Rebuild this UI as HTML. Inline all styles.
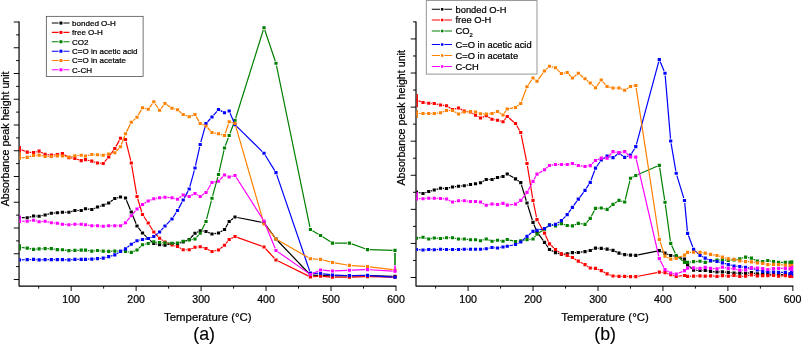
<!DOCTYPE html>
<html lang="en"><head><meta charset="utf-8"><title>Absorbance peak height vs temperature</title>
<style>
html,body{margin:0;padding:0;background:#fff;}
body{width:802px;height:344px;overflow:hidden;}
svg{display:block;font-family:"Liberation Sans",Arial,sans-serif;fill:#000;}
text{stroke:#000;stroke-width:0.22px;}
</style></head><body>
<svg width="802" height="344" viewBox="0 0 802 344">
<rect width="802" height="344" fill="#fff"/>
<defs><clipPath id="ca"><rect x="19.4" y="0" width="381" height="300"/></clipPath><clipPath id="cb"><rect x="416.4" y="0" width="386" height="300"/></clipPath></defs>
<path d="M19.05 21.50V286.10H396.30" stroke="#000" stroke-width="1.2" fill="none" stroke-linejoin="round"/>
<path d="M19.05 22.00h-5.3M19.05 47.75h-5.3M19.05 73.50h-5.3M19.05 99.25h-5.3M19.05 125.00h-5.3M19.05 150.75h-5.3M19.05 176.50h-5.3M19.05 202.25h-5.3M19.05 228.00h-5.3M19.05 253.75h-5.3M19.05 279.50h-5.3M19.05 34.88h-3M19.05 60.62h-3M19.05 86.38h-3M19.05 112.12h-3M19.05 137.88h-3M19.05 163.62h-3M19.05 189.38h-3M19.05 215.12h-3M19.05 240.88h-3M19.05 266.62h-3M71.15 286.10V291M136.12 286.10V291M201.09 286.10V291M266.06 286.10V291M331.03 286.10V291M396.00 286.10V291M38.67 286.10V288.6M103.64 286.10V288.6M168.61 286.10V288.6M233.58 286.10V288.6M298.55 286.10V288.6M363.51 286.10V288.6" stroke="#000" stroke-width="0.95" fill="none"/>
<text x="71.15" y="302.6" text-anchor="middle" font-size="10.6">100</text>
<text x="136.12" y="302.6" text-anchor="middle" font-size="10.6">200</text>
<text x="201.09" y="302.6" text-anchor="middle" font-size="10.6">300</text>
<text x="266.06" y="302.6" text-anchor="middle" font-size="10.6">400</text>
<text x="331.03" y="302.6" text-anchor="middle" font-size="10.6">500</text>
<text x="396.00" y="302.6" text-anchor="middle" font-size="10.6">600</text>
<g clip-path="url(#ca)">
<path d="M21.80 217.65L24.80 217.70M29.52 217.12L31.28 216.63M36.00 216.11L36.70 216.14M41.45 215.76L42.75 215.49M47.41 214.35L48.99 213.90M53.69 213.05L54.91 212.95M59.69 212.52L60.01 212.48M64.80 212.25L66.50 212.25M71.20 211.58L72.60 211.17M77.30 210.50L78.80 210.50M87.88 209.03L89.42 209.22M94.00 208.54L95.30 207.96M99.79 206.30L100.91 205.95M105.42 204.34L106.48 203.91M110.63 201.58L112.87 199.92M117.12 197.89L118.18 197.61M126.42 200.22L130.38 209.78M132.21 214.22L136.09 223.78M138.48 227.89L141.02 231.11M144.23 234.67L146.47 236.83M149.99 240.10L152.01 241.90M156.15 244.01L157.25 244.24M161.99 244.97L162.61 245.03M167.33 244.67L169.67 244.08M174.40 243.50L175.10 243.50M179.82 242.89L180.88 242.61M185.42 241.08L186.98 240.42M190.83 237.74L193.37 235.01M197.16 232.21L198.04 231.79M202.58 231.06L203.62 231.19M208.22 232.42L209.78 233.08M214.37 233.64L216.13 233.36M220.57 231.79L222.43 230.71M225.72 227.43L227.98 223.57M231.10 220.03L233.10 218.47M237.35 217.47L261.65 222.28M265.43 224.68L274.57 237.07M277.66 240.74L308.74 273.26M312.80 275.12L318.20 275.38M323.00 275.58L330.10 275.82M334.90 275.90L347.00 275.90M351.80 275.86L365.10 275.64M369.90 275.66L392.60 276.24" stroke="#000000" stroke-width="1.20" fill="none"/>
<path d="M17.80 216.00h3.2v3.2h-3.2zM25.60 216.15h3.2v3.2h-3.2zM32.00 214.40h3.2v3.2h-3.2zM37.50 214.65h3.2v3.2h-3.2zM43.50 213.40h3.2v3.2h-3.2zM49.70 211.65h3.2v3.2h-3.2zM55.70 211.15h3.2v3.2h-3.2zM60.80 210.65h3.2v3.2h-3.2zM67.30 210.65h3.2v3.2h-3.2zM73.30 208.90h3.2v3.2h-3.2zM79.60 208.90h3.2v3.2h-3.2zM83.90 207.15h3.2v3.2h-3.2zM90.20 207.90h3.2v3.2h-3.2zM95.90 205.40h3.2v3.2h-3.2zM101.60 203.65h3.2v3.2h-3.2zM107.10 201.40h3.2v3.2h-3.2zM113.20 196.90h3.2v3.2h-3.2zM118.90 195.40h3.2v3.2h-3.2zM123.90 196.40h3.2v3.2h-3.2zM129.70 210.40h3.2v3.2h-3.2zM135.40 224.40h3.2v3.2h-3.2zM140.90 231.40h3.2v3.2h-3.2zM146.60 236.90h3.2v3.2h-3.2zM152.20 241.90h3.2v3.2h-3.2zM158.00 243.15h3.2v3.2h-3.2zM163.40 243.65h3.2v3.2h-3.2zM170.40 241.90h3.2v3.2h-3.2zM175.90 241.90h3.2v3.2h-3.2zM181.60 240.40h3.2v3.2h-3.2zM187.60 237.90h3.2v3.2h-3.2zM193.40 231.65h3.2v3.2h-3.2zM198.60 229.15h3.2v3.2h-3.2zM204.40 229.90h3.2v3.2h-3.2zM210.40 232.40h3.2v3.2h-3.2zM216.90 231.40h3.2v3.2h-3.2zM222.90 227.90h3.2v3.2h-3.2zM227.60 219.90h3.2v3.2h-3.2zM233.40 215.40h3.2v3.2h-3.2zM262.40 221.15h3.2v3.2h-3.2zM274.40 237.40h3.2v3.2h-3.2zM308.80 273.40h3.2v3.2h-3.2zM319.00 273.90h3.2v3.2h-3.2zM330.90 274.30h3.2v3.2h-3.2zM347.80 274.30h3.2v3.2h-3.2zM365.90 274.00h3.2v3.2h-3.2zM393.40 274.70h3.2v3.2h-3.2z" fill="#000000"/>
<path d="M21.62 149.91L24.98 151.29M29.60 152.35L31.20 152.45M35.92 151.97L36.78 151.73M41.22 152.23L42.98 153.17M47.48 154.61L48.92 154.79M53.69 154.86L54.91 154.74M59.66 154.08L60.04 154.02M64.44 154.86L66.86 156.34M71.27 157.96L72.53 158.14M77.17 159.29L78.93 159.91M87.83 160.26L89.47 160.64M94.09 161.92L95.21 162.28M99.89 163.21L100.81 163.29M104.75 161.67L107.15 158.83M110.10 155.05L113.40 150.45M115.97 146.40L119.33 140.35M122.83 138.83L123.17 138.92M126.08 141.83L130.72 160.67M131.70 165.37L136.60 194.13M137.70 198.80L141.80 212.20M143.84 216.49L146.86 221.01M149.47 225.04L152.53 229.96M155.43 233.76L157.97 236.49M161.57 239.62L163.03 240.63M167.21 242.95L169.79 244.05M174.32 245.63L175.18 245.87M179.58 247.69L181.12 248.56M185.60 249.75L186.80 249.75M191.40 248.80L192.80 248.20M197.39 247.02L197.81 246.98M202.50 247.44L203.70 247.81M208.15 249.57L209.85 250.43M214.34 250.96L216.16 250.54M220.38 248.51L222.62 246.74M226.02 243.39L227.68 241.36M231.33 238.40L232.87 237.60M237.26 237.32L261.74 246.18M265.63 248.76L274.37 258.24M278.15 261.06L308.25 275.84M312.80 276.75L318.20 276.40M322.99 276.45L330.11 277.05M334.90 277.25L347.00 277.25M351.80 277.16L365.10 276.69M369.90 276.64L392.60 277.06" stroke="#ff0000" stroke-width="1.20" fill="none"/>
<path d="M17.80 147.40h3.2v3.2h-3.2zM25.60 150.60h3.2v3.2h-3.2zM32.00 151.00h3.2v3.2h-3.2zM37.50 149.50h3.2v3.2h-3.2zM43.50 152.70h3.2v3.2h-3.2zM49.70 153.50h3.2v3.2h-3.2zM55.70 152.90h3.2v3.2h-3.2zM60.80 152.00h3.2v3.2h-3.2zM67.30 156.00h3.2v3.2h-3.2zM73.30 156.90h3.2v3.2h-3.2zM79.60 159.10h3.2v3.2h-3.2zM83.90 158.10h3.2v3.2h-3.2zM90.20 159.60h3.2v3.2h-3.2zM95.90 161.40h3.2v3.2h-3.2zM101.60 161.90h3.2v3.2h-3.2zM107.10 155.40h3.2v3.2h-3.2zM113.20 146.90h3.2v3.2h-3.2zM118.90 136.65h3.2v3.2h-3.2zM123.90 137.90h3.2v3.2h-3.2zM129.70 161.40h3.2v3.2h-3.2zM135.40 194.90h3.2v3.2h-3.2zM140.90 212.90h3.2v3.2h-3.2zM146.60 221.40h3.2v3.2h-3.2zM152.20 230.40h3.2v3.2h-3.2zM158.00 236.65h3.2v3.2h-3.2zM163.40 240.40h3.2v3.2h-3.2zM170.40 243.40h3.2v3.2h-3.2zM175.90 244.90h3.2v3.2h-3.2zM181.60 248.15h3.2v3.2h-3.2zM187.60 248.15h3.2v3.2h-3.2zM193.40 245.65h3.2v3.2h-3.2zM198.60 245.15h3.2v3.2h-3.2zM204.40 246.90h3.2v3.2h-3.2zM210.40 249.90h3.2v3.2h-3.2zM216.90 248.40h3.2v3.2h-3.2zM222.90 243.65h3.2v3.2h-3.2zM227.60 237.90h3.2v3.2h-3.2zM233.40 234.90h3.2v3.2h-3.2zM262.40 245.40h3.2v3.2h-3.2zM274.40 258.40h3.2v3.2h-3.2zM308.80 275.30h3.2v3.2h-3.2zM319.00 274.65h3.2v3.2h-3.2zM330.90 275.65h3.2v3.2h-3.2zM347.80 275.65h3.2v3.2h-3.2zM365.90 275.00h3.2v3.2h-3.2zM393.40 275.50h3.2v3.2h-3.2z" fill="#ff0000"/>
<path d="M21.78 247.48L24.82 247.82M29.56 248.54L31.24 248.86M35.99 249.08L36.71 249.02M41.50 248.76L42.70 248.74M47.50 248.70L48.90 248.70M53.67 249.06L54.93 249.24M59.70 249.67L60.00 249.68M64.77 250.10L66.53 250.35M71.30 250.58L72.50 250.52M77.30 250.32L78.80 250.28M87.88 250.54L89.42 250.76M94.19 250.85L95.11 250.75M99.89 250.75L100.81 250.85M105.60 251.23L106.30 251.27M111.10 251.28L112.40 251.22M117.20 251.18L118.10 251.22M127.88 251.83L128.92 251.97M133.53 251.40L134.77 250.90M138.74 248.34L140.76 246.41M144.84 244.24L145.86 244.01M150.49 242.78L151.51 242.47M156.18 242.06L157.22 242.19M162.00 242.61L162.60 242.64M167.39 242.92L169.61 243.08M174.40 243.14L175.10 243.11M179.79 242.30L180.91 241.95M185.55 240.76L186.85 240.49M191.57 239.59L192.63 239.41M196.61 237.22L198.59 235.03M201.26 231.10L204.94 223.65M206.60 219.18L211.40 200.57M212.63 195.94L217.87 176.81M219.03 172.16L223.97 150.34M225.34 145.75L228.36 137.75M230.05 133.26L234.15 122.49M235.72 117.96L263.28 30.04M264.77 30.02L275.23 60.98M276.49 65.60L309.91 227.15M312.47 230.72L318.53 234.28M322.62 236.79L330.48 241.81M334.90 243.10L347.00 243.10M351.66 243.91L365.24 248.79M369.90 249.67L392.60 250.33" stroke="#008000" stroke-width="1.20" fill="none"/>
<path d="M17.80 245.60h3.2v3.2h-3.2zM25.60 246.50h3.2v3.2h-3.2zM32.00 247.70h3.2v3.2h-3.2zM37.50 247.20h3.2v3.2h-3.2zM43.50 247.10h3.2v3.2h-3.2zM49.70 247.10h3.2v3.2h-3.2zM55.70 248.00h3.2v3.2h-3.2zM60.80 248.15h3.2v3.2h-3.2zM67.30 249.10h3.2v3.2h-3.2zM73.30 248.80h3.2v3.2h-3.2zM79.60 248.60h3.2v3.2h-3.2zM83.90 248.60h3.2v3.2h-3.2zM90.20 249.50h3.2v3.2h-3.2zM95.90 248.90h3.2v3.2h-3.2zM101.60 249.50h3.2v3.2h-3.2zM107.10 249.80h3.2v3.2h-3.2zM113.20 249.50h3.2v3.2h-3.2zM118.90 249.70h3.2v3.2h-3.2zM123.90 249.90h3.2v3.2h-3.2zM129.70 250.70h3.2v3.2h-3.2zM135.40 248.40h3.2v3.2h-3.2zM140.90 243.15h3.2v3.2h-3.2zM146.60 241.90h3.2v3.2h-3.2zM152.20 240.15h3.2v3.2h-3.2zM158.00 240.90h3.2v3.2h-3.2zM163.40 241.15h3.2v3.2h-3.2zM170.40 241.65h3.2v3.2h-3.2zM175.90 241.40h3.2v3.2h-3.2zM181.60 239.65h3.2v3.2h-3.2zM187.60 238.40h3.2v3.2h-3.2zM193.40 237.40h3.2v3.2h-3.2zM198.60 231.65h3.2v3.2h-3.2zM204.40 219.90h3.2v3.2h-3.2zM210.40 196.65h3.2v3.2h-3.2zM216.90 172.90h3.2v3.2h-3.2zM222.90 146.40h3.2v3.2h-3.2zM227.60 133.90h3.2v3.2h-3.2zM233.40 118.65h3.2v3.2h-3.2zM262.40 26.15h3.2v3.2h-3.2zM274.40 61.65h3.2v3.2h-3.2zM308.80 227.90h3.2v3.2h-3.2zM319.00 233.90h3.2v3.2h-3.2zM330.90 241.50h3.2v3.2h-3.2zM347.80 241.50h3.2v3.2h-3.2zM365.90 248.00h3.2v3.2h-3.2zM393.40 248.80h3.2v3.2h-3.2z" fill="#008000"/>
<path d="M21.80 259.84L24.80 259.76M29.60 259.59L31.20 259.51M35.99 259.62L36.71 259.68M41.50 259.78L42.70 259.72M47.50 259.64L48.90 259.66M53.70 259.70L54.90 259.70M59.70 259.65L60.00 259.65M64.80 259.71L66.50 259.79M71.29 259.70L72.51 259.60M77.30 259.40L78.80 259.40M87.90 259.22L89.40 259.18M94.19 258.93L95.11 258.87M99.89 258.49L100.81 258.41M105.52 257.57L106.38 257.33M111.00 256.02L112.50 255.58M116.85 253.64L118.45 252.66M122.63 250.29L123.37 249.91M127.39 247.32L129.41 245.73M133.35 242.99L134.95 242.01M139.34 240.22L140.16 240.03M144.86 239.09L145.84 238.91M150.46 237.69L151.54 237.31M155.70 235.03L157.70 233.47M161.21 230.22L163.39 227.78M166.70 224.30L170.30 220.70M173.30 216.99L176.20 212.51M178.65 208.39L182.05 202.11M184.35 197.89L188.05 191.11M189.84 186.69L194.36 170.31M195.52 165.66L199.68 146.84M200.84 142.19L205.36 125.81M207.63 121.74L210.37 118.76M213.57 115.19L216.93 111.31M220.61 110.64L222.39 111.61M230.13 113.21L234.07 122.54M236.71 126.43L262.29 151.57M265.26 155.29L274.74 170.56M276.78 174.87L309.62 270.83M312.80 273.19L318.20 273.41M322.98 273.80L330.12 274.70M334.90 275.09L347.00 275.51M351.80 275.57L365.10 275.43M369.89 275.56L392.61 277.09" stroke="#0000ff" stroke-width="1.20" fill="none"/>
<path d="M17.80 258.30h3.2v3.2h-3.2zM25.60 258.10h3.2v3.2h-3.2zM32.00 257.80h3.2v3.2h-3.2zM37.50 258.30h3.2v3.2h-3.2zM43.50 258.00h3.2v3.2h-3.2zM49.70 258.10h3.2v3.2h-3.2zM55.70 258.10h3.2v3.2h-3.2zM60.80 258.00h3.2v3.2h-3.2zM67.30 258.30h3.2v3.2h-3.2zM73.30 257.80h3.2v3.2h-3.2zM79.60 257.80h3.2v3.2h-3.2zM83.90 257.70h3.2v3.2h-3.2zM90.20 257.50h3.2v3.2h-3.2zM95.90 257.10h3.2v3.2h-3.2zM101.60 256.60h3.2v3.2h-3.2zM107.10 255.10h3.2v3.2h-3.2zM113.20 253.30h3.2v3.2h-3.2zM118.90 249.80h3.2v3.2h-3.2zM123.90 247.20h3.2v3.2h-3.2zM129.70 242.65h3.2v3.2h-3.2zM135.40 239.15h3.2v3.2h-3.2zM140.90 237.90h3.2v3.2h-3.2zM146.60 236.90h3.2v3.2h-3.2zM152.20 234.90h3.2v3.2h-3.2zM158.00 230.40h3.2v3.2h-3.2zM163.40 224.40h3.2v3.2h-3.2zM170.40 217.40h3.2v3.2h-3.2zM175.90 208.90h3.2v3.2h-3.2zM181.60 198.40h3.2v3.2h-3.2zM187.60 187.40h3.2v3.2h-3.2zM193.40 166.40h3.2v3.2h-3.2zM198.60 142.90h3.2v3.2h-3.2zM204.40 121.90h3.2v3.2h-3.2zM210.40 115.40h3.2v3.2h-3.2zM216.90 107.90h3.2v3.2h-3.2zM222.90 111.15h3.2v3.2h-3.2zM227.60 109.40h3.2v3.2h-3.2zM233.40 123.15h3.2v3.2h-3.2zM262.40 151.65h3.2v3.2h-3.2zM274.40 171.00h3.2v3.2h-3.2zM308.80 271.50h3.2v3.2h-3.2zM319.00 271.90h3.2v3.2h-3.2zM330.90 273.40h3.2v3.2h-3.2zM347.80 274.00h3.2v3.2h-3.2zM365.90 273.80h3.2v3.2h-3.2zM393.40 275.65h3.2v3.2h-3.2z" fill="#0000ff"/>
<path d="M21.79 157.79L24.81 157.51M29.50 156.62L31.30 156.08M36.00 155.31L36.70 155.29M41.45 155.71L42.75 155.99M47.50 156.50L48.90 156.50M53.68 156.22L54.92 156.08M59.70 155.89L60.00 155.91M64.76 156.44L66.54 156.76M71.24 156.65L72.56 156.35M77.29 155.59L78.81 155.46M87.83 155.44L89.47 155.06M94.20 154.61L95.10 154.64M99.89 154.96L100.81 155.04M105.54 154.72L106.36 154.53M111.05 153.52L112.45 153.23M116.45 151.01L118.85 148.49M121.36 144.51L124.64 135.99M126.58 131.61L130.22 124.39M133.10 120.67L135.20 118.83M138.20 115.17L141.30 109.83M144.82 108.36L145.88 108.64M149.64 107.33L152.36 103.67M155.15 103.73L158.25 108.27M161.10 108.38L163.50 105.37M166.99 104.85L170.01 106.90M174.32 108.88L175.18 109.12M179.34 111.29L181.36 112.96M185.45 115.34L186.95 115.91M191.44 115.88L192.76 115.37M196.20 116.58L199.00 121.42M202.40 124.45L203.80 125.05M207.63 127.76L210.37 130.74M214.36 132.95L216.14 133.30M220.80 134.42L222.20 134.83M225.28 133.23L228.42 124.02M231.50 122.44L232.70 122.81M235.67 125.81L263.33 221.69M265.50 225.87L274.50 237.13M278.08 240.19L308.32 257.56M312.80 258.90L318.20 259.25M322.92 260.01L330.18 261.89M334.87 262.91L347.03 264.99M351.79 265.56L365.11 266.44M369.88 266.89L392.62 269.71" stroke="#ff8000" stroke-width="1.20" fill="none"/>
<path d="M17.80 156.40h3.2v3.2h-3.2zM25.60 155.70h3.2v3.2h-3.2zM32.00 153.80h3.2v3.2h-3.2zM37.50 153.60h3.2v3.2h-3.2zM43.50 154.90h3.2v3.2h-3.2zM49.70 154.90h3.2v3.2h-3.2zM55.70 154.20h3.2v3.2h-3.2zM60.80 154.40h3.2v3.2h-3.2zM67.30 155.60h3.2v3.2h-3.2zM73.30 154.20h3.2v3.2h-3.2zM79.60 153.65h3.2v3.2h-3.2zM83.90 154.40h3.2v3.2h-3.2zM90.20 152.90h3.2v3.2h-3.2zM95.90 153.15h3.2v3.2h-3.2zM101.60 153.65h3.2v3.2h-3.2zM107.10 152.40h3.2v3.2h-3.2zM113.20 151.15h3.2v3.2h-3.2zM118.90 145.15h3.2v3.2h-3.2zM123.90 132.15h3.2v3.2h-3.2zM129.70 120.65h3.2v3.2h-3.2zM135.40 115.65h3.2v3.2h-3.2zM140.90 106.15h3.2v3.2h-3.2zM146.60 107.65h3.2v3.2h-3.2zM152.20 100.15h3.2v3.2h-3.2zM158.00 108.65h3.2v3.2h-3.2zM163.40 101.90h3.2v3.2h-3.2zM170.40 106.65h3.2v3.2h-3.2zM175.90 108.15h3.2v3.2h-3.2zM181.60 112.90h3.2v3.2h-3.2zM187.60 115.15h3.2v3.2h-3.2zM193.40 112.90h3.2v3.2h-3.2zM198.60 121.90h3.2v3.2h-3.2zM204.40 124.40h3.2v3.2h-3.2zM210.40 130.90h3.2v3.2h-3.2zM216.90 132.15h3.2v3.2h-3.2zM222.90 133.90h3.2v3.2h-3.2zM227.60 120.15h3.2v3.2h-3.2zM233.40 121.90h3.2v3.2h-3.2zM262.40 222.40h3.2v3.2h-3.2zM274.40 237.40h3.2v3.2h-3.2zM308.80 257.15h3.2v3.2h-3.2zM319.00 257.80h3.2v3.2h-3.2zM330.90 260.90h3.2v3.2h-3.2zM347.80 263.80h3.2v3.2h-3.2zM365.90 265.00h3.2v3.2h-3.2zM393.40 268.40h3.2v3.2h-3.2z" fill="#ff8000"/>
<path d="M21.80 221.25L24.80 221.25M29.57 220.88L31.23 220.62M35.92 220.88L36.78 221.12M41.49 221.55L42.71 221.45M47.43 221.81L48.97 222.19M53.69 222.95L54.91 223.05M59.66 223.71L60.04 223.79M64.79 224.43L66.51 224.57M71.29 224.55L72.51 224.45M77.30 224.25L78.80 224.25M87.87 225.13L89.43 225.37M94.20 225.75L95.10 225.75M99.89 225.96L100.81 226.04M105.59 226.03L106.31 225.97M111.10 225.75L112.40 225.75M117.20 225.75L118.10 225.75M122.56 224.52L123.44 223.98M127.03 220.90L129.77 217.60M132.85 213.92L135.45 210.83M138.86 207.48L140.64 206.02M144.55 203.24L146.15 202.26M150.43 200.11L151.57 199.64M156.17 198.34L157.23 198.16M161.99 197.53L162.61 197.47M167.39 197.42L169.61 197.58M174.32 198.38L175.18 198.62M179.42 197.82L181.28 196.43M185.53 195.58L186.87 195.92M191.33 195.40L192.87 194.60M197.08 194.70L198.12 195.30M202.18 195.14L204.02 193.86M207.23 190.44L210.77 184.56M214.36 182.05L216.14 181.70M220.16 179.52L222.84 176.73M226.71 175.94L226.99 176.06M231.52 176.40L232.68 176.10M236.29 177.52L262.71 218.98M264.90 223.22L275.10 248.28M277.97 251.87L308.43 273.13M312.60 273.53L318.40 270.97M322.99 270.20L330.11 270.80M334.90 270.89L347.00 270.36M351.80 270.16L365.10 269.69M369.90 269.74L392.60 271.11" stroke="#ff00ff" stroke-width="1.20" fill="none"/>
<path d="M17.80 219.65h3.2v3.2h-3.2zM25.60 219.65h3.2v3.2h-3.2zM32.00 218.65h3.2v3.2h-3.2zM37.50 220.15h3.2v3.2h-3.2zM43.50 219.65h3.2v3.2h-3.2zM49.70 221.15h3.2v3.2h-3.2zM55.70 221.65h3.2v3.2h-3.2zM60.80 222.65h3.2v3.2h-3.2zM67.30 223.15h3.2v3.2h-3.2zM73.30 222.65h3.2v3.2h-3.2zM79.60 222.65h3.2v3.2h-3.2zM83.90 223.15h3.2v3.2h-3.2zM90.20 224.15h3.2v3.2h-3.2zM95.90 224.15h3.2v3.2h-3.2zM101.60 224.65h3.2v3.2h-3.2zM107.10 224.15h3.2v3.2h-3.2zM113.20 224.15h3.2v3.2h-3.2zM118.90 224.15h3.2v3.2h-3.2zM123.90 221.15h3.2v3.2h-3.2zM129.70 214.15h3.2v3.2h-3.2zM135.40 207.40h3.2v3.2h-3.2zM140.90 202.90h3.2v3.2h-3.2zM146.60 199.40h3.2v3.2h-3.2zM152.20 197.15h3.2v3.2h-3.2zM158.00 196.15h3.2v3.2h-3.2zM163.40 195.65h3.2v3.2h-3.2zM170.40 196.15h3.2v3.2h-3.2zM175.90 197.65h3.2v3.2h-3.2zM181.60 193.40h3.2v3.2h-3.2zM187.60 194.90h3.2v3.2h-3.2zM193.40 191.90h3.2v3.2h-3.2zM198.60 194.90h3.2v3.2h-3.2zM204.40 190.90h3.2v3.2h-3.2zM210.40 180.90h3.2v3.2h-3.2zM216.90 179.65h3.2v3.2h-3.2zM222.90 173.40h3.2v3.2h-3.2zM227.60 175.40h3.2v3.2h-3.2zM233.40 173.90h3.2v3.2h-3.2zM262.40 219.40h3.2v3.2h-3.2zM274.40 248.90h3.2v3.2h-3.2zM308.80 272.90h3.2v3.2h-3.2zM319.00 268.40h3.2v3.2h-3.2zM330.90 269.40h3.2v3.2h-3.2zM347.80 268.65h3.2v3.2h-3.2zM365.90 268.00h3.2v3.2h-3.2zM393.40 269.65h3.2v3.2h-3.2z" fill="#ff00ff"/>
<line x1="20.15" y1="146.10" x2="20.15" y2="152.60" stroke="#ff0000" stroke-width="1.6"/>
<line x1="20.15" y1="152.60" x2="20.15" y2="159.40" stroke="#ff8000" stroke-width="1.6"/>
<line x1="20.15" y1="215.60" x2="20.15" y2="223.00" stroke="#ff00ff" stroke-width="1.6"/>
<line x1="20.15" y1="244.30" x2="20.15" y2="250.40" stroke="#008000" stroke-width="1.6"/>
<line x1="395.00" y1="253.00" x2="395.00" y2="265.00" stroke="#008000" stroke-width="1.6"/>
<line x1="395.00" y1="265.60" x2="395.00" y2="272.50" stroke="#ff00ff" stroke-width="1.6"/>
</g>
<rect x="46.30" y="16.30" width="96.80" height="60.10" fill="#fff" stroke="#3a3a3a" stroke-width="0.70"/>
<path d="M51.80 23.05H58.55M63.35 23.05H69.50" stroke="#000000" stroke-width="1.1" fill="none"/>
<rect x="59.45" y="21.55" width="3.00" height="3.00" fill="#000000"/>
<text x="72.00" y="25.95" font-size="8.05">bonded O-H</text>
<path d="M51.80 32.40H58.55M63.35 32.40H69.50" stroke="#ff0000" stroke-width="1.1" fill="none"/>
<rect x="59.45" y="30.90" width="3.00" height="3.00" fill="#ff0000"/>
<text x="72.00" y="35.30" font-size="8.05">free O-H</text>
<path d="M51.80 41.75H58.55M63.35 41.75H69.50" stroke="#008000" stroke-width="1.1" fill="none"/>
<rect x="59.45" y="40.25" width="3.00" height="3.00" fill="#008000"/>
<text x="72.00" y="44.65" font-size="8.05">CO2</text>
<path d="M51.80 51.20H58.55M63.35 51.20H69.50" stroke="#0000ff" stroke-width="1.1" fill="none"/>
<rect x="59.45" y="49.70" width="3.00" height="3.00" fill="#0000ff"/>
<text x="72.00" y="54.10" font-size="8.05">C=O in acetic acid</text>
<path d="M51.80 60.50H58.55M63.35 60.50H69.50" stroke="#ff8000" stroke-width="1.1" fill="none"/>
<rect x="59.45" y="59.00" width="3.00" height="3.00" fill="#ff8000"/>
<text x="72.00" y="63.40" font-size="8.05">C=O in acetate</text>
<path d="M51.80 69.80H58.55M63.35 69.80H69.50" stroke="#ff00ff" stroke-width="1.1" fill="none"/>
<rect x="59.45" y="68.30" width="3.00" height="3.00" fill="#ff00ff"/>
<text x="72.00" y="72.70" font-size="8.05">C-CH</text>
<path d="M416.00 21.50V286.10H793.30" stroke="#000" stroke-width="1.2" fill="none" stroke-linejoin="round"/>
<path d="M416.00 38.95h-5.3M416.00 73.03h-5.3M416.00 107.11h-5.3M416.00 141.19h-5.3M416.00 175.27h-5.3M416.00 209.35h-5.3M416.00 243.43h-5.3M416.00 277.51h-5.3M416.00 21.90h-3M416.00 55.98h-3M416.00 90.06h-3M416.00 124.14h-3M416.00 158.22h-3M416.00 192.30h-3M416.00 226.38h-3M416.00 260.46h-3M468.10 286.10V291M533.05 286.10V291M598.00 286.10V291M662.95 286.10V291M727.90 286.10V291M792.85 286.10V291M435.62 286.10V288.6M500.58 286.10V288.6M565.52 286.10V288.6M630.48 286.10V288.6M695.42 286.10V288.6M760.38 286.10V288.6" stroke="#000" stroke-width="0.95" fill="none"/>
<text x="468.10" y="302.6" text-anchor="middle" font-size="10.6">100</text>
<text x="533.05" y="302.6" text-anchor="middle" font-size="10.6">200</text>
<text x="598.00" y="302.6" text-anchor="middle" font-size="10.6">300</text>
<text x="662.95" y="302.6" text-anchor="middle" font-size="10.6">400</text>
<text x="727.90" y="302.6" text-anchor="middle" font-size="10.6">500</text>
<text x="792.55" y="302.6" text-anchor="middle" font-size="10.6">600</text>
<g clip-path="url(#cb)">
<path d="M418.74 192.53L420.66 192.97M425.27 192.71L426.48 192.29M431.07 190.87L431.93 190.63M436.56 189.35L438.19 188.90M442.90 188.35L444.10 188.40M448.83 187.92L450.17 187.58M454.88 186.70L456.12 186.55M460.89 186.04L461.86 185.96M466.60 185.28L468.15 184.97M482.59 181.57L484.16 180.68M488.65 179.50L489.60 179.50M494.26 178.68L495.24 178.32M499.86 177.07L500.64 176.93M509.32 175.21L513.43 177.59M517.44 180.21L518.81 181.19M521.45 184.89L526.30 200.71M527.71 205.29L532.29 220.01M533.91 224.52L536.09 229.78M538.41 233.94L543.09 240.36M545.87 244.27L548.13 247.53M551.62 250.63L553.38 251.57M557.83 253.29L559.07 253.61M563.79 254.03L564.81 253.97M569.55 253.30L570.05 253.20M574.80 252.62L575.90 252.58M580.68 252.18L582.62 251.92M587.35 251.11L587.90 250.99M592.43 249.50L593.32 249.10M597.90 248.23L598.85 248.27M603.63 248.73L604.72 248.87M609.46 249.64L610.64 249.86M615.16 251.34L616.84 252.16M621.32 253.81L622.38 254.09M627.09 254.87L628.11 254.93M632.90 255.19L633.40 255.21M638.16 254.84L656.94 251.16M661.50 251.66L662.80 252.24M667.23 254.10L668.47 254.60M673.08 255.85L673.82 255.95M678.47 257.09L682.23 258.41M685.66 261.30L686.44 262.70M689.40 266.39L691.80 268.51M696.00 270.25L697.60 270.35M702.40 270.50L702.80 270.50M707.56 270.94L708.24 271.06M712.99 271.69L714.61 271.81M719.40 271.96L720.00 271.94M724.79 272.06L725.91 272.14M730.68 272.63L731.62 272.77M736.40 273.10L737.40 273.10M742.20 273.22L743.20 273.28M747.98 273.07L749.02 272.93M753.74 273.12L754.96 273.38M759.70 274.03L760.30 274.07M770.20 274.33L771.10 274.37M775.90 274.50L776.20 274.50M781.00 274.54L782.90 274.56" stroke="#000000" stroke-width="1.20" fill="none"/>
<path d="M414.80 190.40h3.2v3.2h-3.2zM421.40 191.90h3.2v3.2h-3.2zM427.15 189.90h3.2v3.2h-3.2zM432.65 188.40h3.2v3.2h-3.2zM438.90 186.65h3.2v3.2h-3.2zM444.90 186.90h3.2v3.2h-3.2zM450.90 185.40h3.2v3.2h-3.2zM456.90 184.65h3.2v3.2h-3.2zM462.65 184.15h3.2v3.2h-3.2zM468.90 182.90h3.2v3.2h-3.2zM473.90 182.15h3.2v3.2h-3.2zM478.90 181.15h3.2v3.2h-3.2zM484.65 177.90h3.2v3.2h-3.2zM490.40 177.90h3.2v3.2h-3.2zM495.90 175.90h3.2v3.2h-3.2zM501.40 174.90h3.2v3.2h-3.2zM505.65 172.40h3.2v3.2h-3.2zM513.90 177.20h3.2v3.2h-3.2zM519.15 181.00h3.2v3.2h-3.2zM525.40 201.40h3.2v3.2h-3.2zM531.40 220.70h3.2v3.2h-3.2zM535.40 230.40h3.2v3.2h-3.2zM542.90 240.70h3.2v3.2h-3.2zM547.90 247.90h3.2v3.2h-3.2zM553.90 251.10h3.2v3.2h-3.2zM559.80 252.60h3.2v3.2h-3.2zM565.60 252.20h3.2v3.2h-3.2zM570.80 251.10h3.2v3.2h-3.2zM576.70 250.90h3.2v3.2h-3.2zM583.40 250.00h3.2v3.2h-3.2zM588.65 248.90h3.2v3.2h-3.2zM593.90 246.50h3.2v3.2h-3.2zM599.65 246.80h3.2v3.2h-3.2zM605.50 247.60h3.2v3.2h-3.2zM611.40 248.70h3.2v3.2h-3.2zM617.40 251.60h3.2v3.2h-3.2zM623.10 253.10h3.2v3.2h-3.2zM628.90 253.50h3.2v3.2h-3.2zM634.20 253.70h3.2v3.2h-3.2zM657.70 249.10h3.2v3.2h-3.2zM663.40 251.60h3.2v3.2h-3.2zM669.10 253.90h3.2v3.2h-3.2zM674.60 254.70h3.2v3.2h-3.2zM682.90 257.60h3.2v3.2h-3.2zM686.00 263.20h3.2v3.2h-3.2zM692.00 268.50h3.2v3.2h-3.2zM698.40 268.90h3.2v3.2h-3.2zM703.60 268.90h3.2v3.2h-3.2zM709.00 269.90h3.2v3.2h-3.2zM715.40 270.40h3.2v3.2h-3.2zM720.80 270.30h3.2v3.2h-3.2zM726.70 270.70h3.2v3.2h-3.2zM732.40 271.50h3.2v3.2h-3.2zM738.20 271.50h3.2v3.2h-3.2zM744.00 271.80h3.2v3.2h-3.2zM749.80 271.00h3.2v3.2h-3.2zM755.70 272.30h3.2v3.2h-3.2zM761.10 272.60h3.2v3.2h-3.2zM766.20 272.60h3.2v3.2h-3.2zM771.90 272.90h3.2v3.2h-3.2zM777.00 272.90h3.2v3.2h-3.2zM783.70 273.00h3.2v3.2h-3.2zM788.40 273.40h3.2v3.2h-3.2z" fill="#000000"/>
<path d="M418.64 100.85L420.76 101.65M425.38 102.81L426.37 102.94M431.15 103.36L431.85 103.39M436.58 104.06L438.17 104.44M442.88 105.30L444.12 105.45M448.54 107.02L450.46 108.23M454.83 108.92L456.17 108.58M460.63 109.11L462.12 109.89M466.62 111.38L468.13 111.62M472.51 113.31L473.49 113.94M477.60 116.41L478.40 116.84M482.73 117.13L484.02 116.62M488.30 117.00L489.95 118.00M494.36 119.68L495.14 119.82M499.82 120.88L500.68 121.12M504.51 119.88L505.74 118.37M509.08 118.05L513.67 121.95M516.71 125.57L519.54 130.43M521.22 134.85L526.53 161.15M527.39 165.87L532.61 197.93M533.49 202.65L536.51 217.25M538.17 221.70L543.33 231.00M545.52 235.27L548.48 241.63M551.24 245.45L553.76 247.85M557.44 250.91L559.46 252.39M563.72 254.40L564.88 254.70M569.41 256.24L570.19 256.56M574.43 258.78L576.27 259.92M580.43 262.31L582.87 263.59M587.03 265.98L588.22 266.72M592.64 268.18L593.11 268.22M597.74 269.26L599.01 269.74M603.34 271.78L605.01 272.72M609.36 274.70L610.74 275.20M615.40 276.12L616.60 276.18M621.40 276.30L622.30 276.30M627.09 276.47L628.11 276.53M632.90 276.70L633.40 276.70M638.16 276.24L656.94 272.56M661.69 272.31L662.61 272.39M667.25 273.43L668.45 273.87M672.99 275.41L673.91 275.69M678.59 276.14L682.11 275.76M690.00 276.28L691.20 276.22M696.00 275.99L697.60 275.91M702.40 275.94L702.80 275.96M707.60 275.97L708.20 275.93M712.99 276.02L714.61 276.18M719.38 276.09L720.02 276.01M724.79 275.86L725.91 275.94M730.68 275.81L731.62 275.69M736.36 275.85L737.44 276.05M742.20 276.38L743.20 276.32M747.93 275.64L749.07 275.36M753.76 275.24L754.94 275.46M759.70 275.81L760.30 275.79M770.20 275.57L771.10 275.53M775.88 275.73L776.22 275.77M781.00 275.96L782.90 275.84" stroke="#ff0000" stroke-width="1.20" fill="none"/>
<path d="M414.80 98.40h3.2v3.2h-3.2zM421.40 100.90h3.2v3.2h-3.2zM427.15 101.65h3.2v3.2h-3.2zM432.65 101.90h3.2v3.2h-3.2zM438.90 103.40h3.2v3.2h-3.2zM444.90 104.15h3.2v3.2h-3.2zM450.90 107.90h3.2v3.2h-3.2zM456.90 106.40h3.2v3.2h-3.2zM462.65 109.40h3.2v3.2h-3.2zM468.90 110.40h3.2v3.2h-3.2zM473.90 113.65h3.2v3.2h-3.2zM478.90 116.40h3.2v3.2h-3.2zM484.65 114.15h3.2v3.2h-3.2zM490.40 117.65h3.2v3.2h-3.2zM495.90 118.65h3.2v3.2h-3.2zM501.40 120.15h3.2v3.2h-3.2zM505.65 114.90h3.2v3.2h-3.2zM513.90 121.90h3.2v3.2h-3.2zM519.15 130.90h3.2v3.2h-3.2zM525.40 161.90h3.2v3.2h-3.2zM531.40 198.70h3.2v3.2h-3.2zM535.40 218.00h3.2v3.2h-3.2zM542.90 231.50h3.2v3.2h-3.2zM547.90 242.20h3.2v3.2h-3.2zM553.90 247.90h3.2v3.2h-3.2zM559.80 252.20h3.2v3.2h-3.2zM565.60 253.70h3.2v3.2h-3.2zM570.80 255.90h3.2v3.2h-3.2zM576.70 259.60h3.2v3.2h-3.2zM583.40 263.10h3.2v3.2h-3.2zM588.65 266.40h3.2v3.2h-3.2zM593.90 266.80h3.2v3.2h-3.2zM599.65 269.00h3.2v3.2h-3.2zM605.50 272.30h3.2v3.2h-3.2zM611.40 274.40h3.2v3.2h-3.2zM617.40 274.70h3.2v3.2h-3.2zM623.10 274.70h3.2v3.2h-3.2zM628.90 275.10h3.2v3.2h-3.2zM634.20 275.10h3.2v3.2h-3.2zM657.70 270.50h3.2v3.2h-3.2zM663.40 271.00h3.2v3.2h-3.2zM669.10 273.10h3.2v3.2h-3.2zM674.60 274.80h3.2v3.2h-3.2zM682.90 273.90h3.2v3.2h-3.2zM686.00 274.80h3.2v3.2h-3.2zM692.00 274.50h3.2v3.2h-3.2zM698.40 274.20h3.2v3.2h-3.2zM703.60 274.50h3.2v3.2h-3.2zM709.00 274.20h3.2v3.2h-3.2zM715.40 274.80h3.2v3.2h-3.2zM720.80 274.10h3.2v3.2h-3.2zM726.70 274.50h3.2v3.2h-3.2zM732.40 273.80h3.2v3.2h-3.2zM738.20 274.90h3.2v3.2h-3.2zM744.00 274.60h3.2v3.2h-3.2zM749.80 273.20h3.2v3.2h-3.2zM755.70 274.30h3.2v3.2h-3.2zM761.10 274.10h3.2v3.2h-3.2zM766.20 274.10h3.2v3.2h-3.2zM771.90 273.80h3.2v3.2h-3.2zM777.00 274.50h3.2v3.2h-3.2zM783.70 274.10h3.2v3.2h-3.2zM788.40 274.90h3.2v3.2h-3.2z" fill="#ff0000"/>
<path d="M418.77 237.89L420.63 237.61M425.30 237.95L426.45 238.30M431.11 238.57L431.89 238.43M436.64 238.19L438.11 238.31M442.88 238.20L444.12 238.05M448.90 237.75L450.10 237.75M454.85 238.24L456.15 238.51M460.90 239.00L461.85 239.00M466.63 239.29L468.12 239.46M482.80 240.05L483.95 239.70M488.48 239.87L489.77 240.38M494.36 240.82L495.14 240.68M499.86 240.68L500.64 240.82M509.58 240.07L513.17 240.93M517.88 241.16L518.37 241.09M523.11 240.32L524.64 240.03M529.39 239.36L530.61 239.24M534.54 237.16L535.46 236.04M539.00 232.87L542.50 230.53M546.30 227.61L547.70 226.39M551.86 225.23L553.14 225.47M557.75 225.06L559.15 224.54M563.69 224.41L564.91 224.79M569.59 225.68L570.01 225.72M574.60 224.93L576.10 224.27M580.67 223.69L582.63 224.01M586.57 222.58L588.68 220.12M591.37 216.18L594.38 210.42M597.90 208.17L598.85 208.13M603.58 208.56L604.77 208.84M608.93 207.85L611.17 205.95M615.00 203.07L617.00 201.73M621.31 201.05L622.39 201.35M625.27 199.67L629.93 180.58M632.63 177.14L633.67 176.61M638.00 174.54L657.10 166.26M659.67 167.67L664.63 199.88M665.33 204.63L670.37 240.92M671.69 245.49L675.21 253.31M678.05 257.03L682.65 260.87M689.98 262.12L691.22 261.98M695.99 261.53L697.61 261.42M702.35 261.73L702.85 261.82M707.53 261.74L708.27 261.56M712.97 260.63L714.63 260.37M719.40 259.96L720.00 259.94M724.79 260.06L725.91 260.14M730.70 260.17L731.60 260.13M736.35 259.51L737.45 259.29M742.10 258.12L743.30 257.78M747.96 257.55L749.04 257.75M753.57 259.23L755.13 259.97M759.69 261.27L760.31 261.33M765.05 261.09L765.45 261.01M770.16 260.95L771.14 261.15M775.87 261.97L776.23 262.03M781.00 262.40L782.90 262.40" stroke="#008000" stroke-width="1.20" fill="none"/>
<path d="M414.80 236.65h3.2v3.2h-3.2zM421.40 235.65h3.2v3.2h-3.2zM427.15 237.40h3.2v3.2h-3.2zM432.65 236.40h3.2v3.2h-3.2zM438.90 236.90h3.2v3.2h-3.2zM444.90 236.15h3.2v3.2h-3.2zM450.90 236.15h3.2v3.2h-3.2zM456.90 237.40h3.2v3.2h-3.2zM462.65 237.40h3.2v3.2h-3.2zM468.90 238.15h3.2v3.2h-3.2zM473.90 238.15h3.2v3.2h-3.2zM478.90 239.15h3.2v3.2h-3.2zM484.65 237.40h3.2v3.2h-3.2zM490.40 239.65h3.2v3.2h-3.2zM495.90 238.65h3.2v3.2h-3.2zM501.40 239.65h3.2v3.2h-3.2zM505.65 237.90h3.2v3.2h-3.2zM513.90 239.90h3.2v3.2h-3.2zM519.15 239.15h3.2v3.2h-3.2zM525.40 238.00h3.2v3.2h-3.2zM531.40 237.40h3.2v3.2h-3.2zM535.40 232.60h3.2v3.2h-3.2zM542.90 227.60h3.2v3.2h-3.2zM547.90 223.20h3.2v3.2h-3.2zM553.90 224.30h3.2v3.2h-3.2zM559.80 222.10h3.2v3.2h-3.2zM565.60 223.90h3.2v3.2h-3.2zM570.80 224.30h3.2v3.2h-3.2zM576.70 221.70h3.2v3.2h-3.2zM583.40 222.80h3.2v3.2h-3.2zM588.65 216.70h3.2v3.2h-3.2zM593.90 206.70h3.2v3.2h-3.2zM599.65 206.40h3.2v3.2h-3.2zM605.50 207.80h3.2v3.2h-3.2zM611.40 202.80h3.2v3.2h-3.2zM617.40 198.80h3.2v3.2h-3.2zM623.10 200.40h3.2v3.2h-3.2zM628.90 176.65h3.2v3.2h-3.2zM634.20 173.90h3.2v3.2h-3.2zM657.70 163.70h3.2v3.2h-3.2zM663.40 200.65h3.2v3.2h-3.2zM669.10 241.70h3.2v3.2h-3.2zM674.60 253.90h3.2v3.2h-3.2zM682.90 260.80h3.2v3.2h-3.2zM686.00 260.80h3.2v3.2h-3.2zM692.00 260.10h3.2v3.2h-3.2zM698.40 259.65h3.2v3.2h-3.2zM703.60 260.70h3.2v3.2h-3.2zM709.00 259.40h3.2v3.2h-3.2zM715.40 258.40h3.2v3.2h-3.2zM720.80 258.30h3.2v3.2h-3.2zM726.70 258.70h3.2v3.2h-3.2zM732.40 258.40h3.2v3.2h-3.2zM738.20 257.20h3.2v3.2h-3.2zM744.00 255.50h3.2v3.2h-3.2zM749.80 256.60h3.2v3.2h-3.2zM755.70 259.40h3.2v3.2h-3.2zM761.10 260.00h3.2v3.2h-3.2zM766.20 258.90h3.2v3.2h-3.2zM771.90 260.00h3.2v3.2h-3.2zM777.00 260.80h3.2v3.2h-3.2zM783.70 260.80h3.2v3.2h-3.2zM788.40 260.80h3.2v3.2h-3.2z" fill="#008000"/>
<path d="M418.79 249.68L420.61 249.82M425.39 249.79L426.36 249.71M431.15 249.61L431.85 249.64M436.64 249.56L438.11 249.44M442.90 249.35L444.10 249.40M448.90 249.50L450.10 249.50M454.90 249.50L456.10 249.50M460.90 249.40L461.85 249.35M466.65 249.25L468.10 249.25M482.89 249.04L483.86 248.96M488.60 248.24L489.65 248.01M494.39 247.72L495.11 247.78M499.86 247.57L500.64 247.43M509.60 245.75L513.15 245.00M517.67 243.47L518.58 243.03M522.52 240.38L525.23 237.92M528.86 234.78L531.14 232.92M539.33 229.74L542.17 229.06M546.50 227.18L547.50 226.52M551.88 224.88L553.12 224.72M557.52 223.10L559.38 221.90M563.07 218.87L565.53 216.33M568.61 212.65L570.99 209.35M573.80 205.45L576.90 201.15M579.75 197.29L583.55 192.31M586.31 188.39L588.94 184.31M591.09 180.05L594.66 170.45M596.88 166.23L599.87 161.97M603.26 158.69L605.09 157.51M609.43 156.79L610.67 157.11M614.90 156.24L617.10 154.56M620.92 154.55L622.78 155.95M626.94 156.55L628.26 156.05M631.77 153.16L634.53 148.74M636.43 144.38L658.67 61.92M660.22 61.81L664.08 71.04M665.20 75.64L670.50 138.61M671.10 143.37L675.80 170.88M676.90 175.55L683.80 198.20M684.73 202.89L687.37 230.91M688.44 235.55L692.76 247.05M695.32 250.97L698.28 253.83M702.15 256.57L703.05 257.03M707.38 259.11L708.42 259.59M712.98 260.93L714.62 261.17M719.33 262.06L720.07 262.24M724.70 263.50L726.00 263.90M730.63 265.17L731.67 265.43M736.39 266.21L737.41 266.29M742.17 266.87L743.23 267.03M747.98 267.73L749.02 267.87M753.72 268.83L754.98 269.17M759.59 270.52L760.41 270.78M765.09 271.73L765.41 271.77M770.20 272.00L771.10 272.00M775.89 272.19L776.21 272.21M781.00 272.40L782.90 272.40" stroke="#0000ff" stroke-width="1.20" fill="none"/>
<path d="M414.80 247.90h3.2v3.2h-3.2zM421.40 248.40h3.2v3.2h-3.2zM427.15 247.90h3.2v3.2h-3.2zM432.65 248.15h3.2v3.2h-3.2zM438.90 247.65h3.2v3.2h-3.2zM444.90 247.90h3.2v3.2h-3.2zM450.90 247.90h3.2v3.2h-3.2zM456.90 247.90h3.2v3.2h-3.2zM462.65 247.65h3.2v3.2h-3.2zM468.90 247.65h3.2v3.2h-3.2zM473.90 247.65h3.2v3.2h-3.2zM478.90 247.65h3.2v3.2h-3.2zM484.65 247.15h3.2v3.2h-3.2zM490.40 245.90h3.2v3.2h-3.2zM495.90 246.40h3.2v3.2h-3.2zM501.40 245.40h3.2v3.2h-3.2zM505.65 244.65h3.2v3.2h-3.2zM513.90 242.90h3.2v3.2h-3.2zM519.15 240.40h3.2v3.2h-3.2zM525.40 234.70h3.2v3.2h-3.2zM531.40 229.80h3.2v3.2h-3.2zM535.40 228.70h3.2v3.2h-3.2zM542.90 226.90h3.2v3.2h-3.2zM547.90 223.60h3.2v3.2h-3.2zM553.90 222.80h3.2v3.2h-3.2zM559.80 219.00h3.2v3.2h-3.2zM565.60 213.00h3.2v3.2h-3.2zM570.80 205.80h3.2v3.2h-3.2zM576.70 197.60h3.2v3.2h-3.2zM583.40 188.80h3.2v3.2h-3.2zM588.65 180.70h3.2v3.2h-3.2zM593.90 166.60h3.2v3.2h-3.2zM599.65 158.40h3.2v3.2h-3.2zM605.50 154.60h3.2v3.2h-3.2zM611.40 156.10h3.2v3.2h-3.2zM617.40 151.50h3.2v3.2h-3.2zM623.10 155.80h3.2v3.2h-3.2zM628.90 153.60h3.2v3.2h-3.2zM634.20 145.10h3.2v3.2h-3.2zM657.70 58.00h3.2v3.2h-3.2zM663.40 71.65h3.2v3.2h-3.2zM669.10 139.40h3.2v3.2h-3.2zM674.60 171.65h3.2v3.2h-3.2zM682.90 198.90h3.2v3.2h-3.2zM686.00 231.70h3.2v3.2h-3.2zM692.00 247.70h3.2v3.2h-3.2zM698.40 253.90h3.2v3.2h-3.2zM703.60 256.50h3.2v3.2h-3.2zM709.00 259.00h3.2v3.2h-3.2zM715.40 259.90h3.2v3.2h-3.2zM720.80 261.20h3.2v3.2h-3.2zM726.70 263.00h3.2v3.2h-3.2zM732.40 264.40h3.2v3.2h-3.2zM738.20 264.90h3.2v3.2h-3.2zM744.00 265.80h3.2v3.2h-3.2zM749.80 266.60h3.2v3.2h-3.2zM755.70 268.20h3.2v3.2h-3.2zM761.10 269.90h3.2v3.2h-3.2zM766.20 270.40h3.2v3.2h-3.2zM771.90 270.40h3.2v3.2h-3.2zM777.00 270.80h3.2v3.2h-3.2zM783.70 270.80h3.2v3.2h-3.2zM788.40 272.10h3.2v3.2h-3.2z" fill="#0000ff"/>
<path d="M418.80 113.50L420.60 113.50M425.40 113.50L426.35 113.50M431.15 113.50L431.85 113.50M436.63 113.21L438.12 113.04M442.75 111.91L444.25 111.34M448.90 110.50L450.10 110.50M454.57 111.71L456.43 112.79M460.77 113.21L461.98 112.79M466.64 111.81L468.11 111.69M477.77 112.79L478.23 112.96M482.90 113.85L483.85 113.90M488.64 113.79L489.61 113.71M494.26 112.68L495.24 112.32M499.52 112.79L500.98 113.71M504.39 113.04L505.86 110.96M509.61 108.57L513.14 107.93M517.41 106.05L518.84 104.95M521.59 101.25L526.16 89.00M528.36 84.77L531.64 79.98M534.86 79.51L535.14 79.74M538.42 79.31L543.08 72.94M546.24 69.35L547.76 67.90M551.83 66.83L553.17 67.17M557.22 69.43L559.68 71.82M563.77 73.09L564.83 72.91M568.85 74.24L570.75 76.26M574.27 76.49L576.43 74.76M580.16 74.77L583.14 77.23M586.87 80.26L588.38 81.49M592.03 84.61L593.72 86.14M596.93 85.82L599.82 81.93M602.86 81.78L605.49 84.72M609.43 87.09L610.67 87.41M615.40 88.00L616.60 88.00M621.23 88.88L622.47 89.37M626.72 88.95L628.48 87.80M632.86 86.06L633.44 85.94M636.16 87.87L658.94 237.03M660.08 241.67L664.22 253.83M667.11 257.25L668.59 258.05M673.08 258.85L673.82 258.75M678.44 257.54L682.26 256.06M690.00 252.32L691.20 252.28M696.00 252.27L697.60 252.33M702.37 252.76L702.83 252.84M707.54 253.72L708.26 253.88M712.97 254.81L714.63 255.09M719.30 256.18L720.10 256.42M724.71 257.76L725.99 258.14M730.69 259.01L731.61 259.09M736.32 259.90L737.48 260.20M742.18 261.13L743.22 261.27M748.00 261.68L749.00 261.72M753.76 262.24L754.94 262.46M759.69 263.12L760.31 263.18M765.04 263.95L765.46 264.05M770.20 264.47L771.10 264.43M775.90 264.39L776.20 264.41M780.99 264.75L782.91 264.95" stroke="#ff8000" stroke-width="1.20" fill="none"/>
<path d="M414.80 111.90h3.2v3.2h-3.2zM421.40 111.90h3.2v3.2h-3.2zM427.15 111.90h3.2v3.2h-3.2zM432.65 111.90h3.2v3.2h-3.2zM438.90 111.15h3.2v3.2h-3.2zM444.90 108.90h3.2v3.2h-3.2zM450.90 108.90h3.2v3.2h-3.2zM456.90 112.40h3.2v3.2h-3.2zM462.65 110.40h3.2v3.2h-3.2zM468.90 109.90h3.2v3.2h-3.2zM473.90 110.40h3.2v3.2h-3.2zM478.90 112.15h3.2v3.2h-3.2zM484.65 112.40h3.2v3.2h-3.2zM490.40 111.90h3.2v3.2h-3.2zM495.90 109.90h3.2v3.2h-3.2zM501.40 113.40h3.2v3.2h-3.2zM505.65 107.40h3.2v3.2h-3.2zM513.90 105.90h3.2v3.2h-3.2zM519.15 101.90h3.2v3.2h-3.2zM525.40 85.15h3.2v3.2h-3.2zM531.40 76.40h3.2v3.2h-3.2zM535.40 79.65h3.2v3.2h-3.2zM542.90 69.40h3.2v3.2h-3.2zM547.90 64.65h3.2v3.2h-3.2zM553.90 66.15h3.2v3.2h-3.2zM559.80 71.90h3.2v3.2h-3.2zM565.60 70.90h3.2v3.2h-3.2zM570.80 76.40h3.2v3.2h-3.2zM576.70 71.65h3.2v3.2h-3.2zM583.40 77.15h3.2v3.2h-3.2zM588.65 81.40h3.2v3.2h-3.2zM593.90 86.15h3.2v3.2h-3.2zM599.65 78.40h3.2v3.2h-3.2zM605.50 84.90h3.2v3.2h-3.2zM611.40 86.40h3.2v3.2h-3.2zM617.40 86.40h3.2v3.2h-3.2zM623.10 88.65h3.2v3.2h-3.2zM628.90 84.90h3.2v3.2h-3.2zM634.20 83.90h3.2v3.2h-3.2zM657.70 237.80h3.2v3.2h-3.2zM663.40 254.50h3.2v3.2h-3.2zM669.10 257.60h3.2v3.2h-3.2zM674.60 256.80h3.2v3.2h-3.2zM682.90 253.60h3.2v3.2h-3.2zM686.00 250.80h3.2v3.2h-3.2zM692.00 250.60h3.2v3.2h-3.2zM698.40 250.80h3.2v3.2h-3.2zM703.60 251.60h3.2v3.2h-3.2zM709.00 252.80h3.2v3.2h-3.2zM715.40 253.90h3.2v3.2h-3.2zM720.80 255.50h3.2v3.2h-3.2zM726.70 257.20h3.2v3.2h-3.2zM732.40 257.70h3.2v3.2h-3.2zM738.20 259.20h3.2v3.2h-3.2zM744.00 260.00h3.2v3.2h-3.2zM749.80 260.20h3.2v3.2h-3.2zM755.70 261.30h3.2v3.2h-3.2zM761.10 261.80h3.2v3.2h-3.2zM766.20 263.00h3.2v3.2h-3.2zM771.90 262.70h3.2v3.2h-3.2zM777.00 262.90h3.2v3.2h-3.2zM783.70 263.60h3.2v3.2h-3.2zM788.40 263.80h3.2v3.2h-3.2z" fill="#ff8000"/>
<path d="M418.80 198.75L420.60 198.75M425.39 198.54L426.36 198.46M431.15 198.25L431.85 198.25M436.65 198.35L438.10 198.40M442.89 198.70L444.11 198.80M448.65 200.07L450.35 200.93M454.85 201.51L456.15 201.24M460.90 200.75L461.85 200.75M466.63 201.04L468.12 201.21M482.59 203.18L484.16 204.07M488.60 204.74L489.65 204.51M494.39 204.22L495.11 204.28M499.85 204.03L500.65 203.87M509.63 204.91L513.12 204.49M517.44 202.79L518.81 201.81M522.23 198.51L525.52 194.29M528.15 190.29L531.85 183.51M534.15 179.30L535.85 176.20M539.08 172.90L542.42 170.95M546.33 168.20L547.67 167.05M551.87 165.11L553.13 164.89M557.90 164.50L559.00 164.50M563.80 164.50L564.80 164.50M569.56 164.05L570.04 163.95M574.67 164.27L576.03 164.73M580.67 165.85L582.63 166.15M587.37 166.09L587.88 166.01M591.97 163.93L593.78 162.17M597.73 159.61L599.02 159.09M603.65 158.20L604.70 158.20M608.71 156.42L611.39 153.48M615.37 152.06L616.63 152.24M621.37 152.23L622.33 152.07M626.49 153.30L628.71 155.30M632.90 156.99L633.40 157.01M636.34 159.44L658.76 256.26M660.40 260.73L663.90 267.47M667.06 270.83L668.64 271.77M673.05 273.47L673.85 273.63M678.42 273.19L682.28 271.61M690.00 268.08L691.20 268.02M695.99 268.09L697.61 268.21M702.35 267.90L702.85 267.80M707.55 267.78L708.25 267.92M713.00 268.55L714.60 268.65M719.29 268.08L720.11 267.82M724.74 267.62L725.96 267.88M730.70 268.53L731.60 268.57M736.32 269.30L737.48 269.60M742.19 270.03L743.21 269.97M747.87 269.02L749.13 268.58M753.79 267.96L754.91 268.04M759.69 268.42L760.31 268.48M765.07 269.07L765.43 269.13M770.18 269.17L771.12 269.03M775.90 268.56L776.20 268.54M781.00 268.40L782.90 268.40" stroke="#ff00ff" stroke-width="1.20" fill="none"/>
<path d="M414.80 197.15h3.2v3.2h-3.2zM421.40 197.15h3.2v3.2h-3.2zM427.15 196.65h3.2v3.2h-3.2zM432.65 196.65h3.2v3.2h-3.2zM438.90 196.90h3.2v3.2h-3.2zM444.90 197.40h3.2v3.2h-3.2zM450.90 200.40h3.2v3.2h-3.2zM456.90 199.15h3.2v3.2h-3.2zM462.65 199.15h3.2v3.2h-3.2zM468.90 199.90h3.2v3.2h-3.2zM473.90 199.90h3.2v3.2h-3.2zM478.90 200.40h3.2v3.2h-3.2zM484.65 203.65h3.2v3.2h-3.2zM490.40 202.40h3.2v3.2h-3.2zM495.90 202.90h3.2v3.2h-3.2zM501.40 201.80h3.2v3.2h-3.2zM505.65 203.60h3.2v3.2h-3.2zM513.90 202.60h3.2v3.2h-3.2zM519.15 198.80h3.2v3.2h-3.2zM525.40 190.80h3.2v3.2h-3.2zM531.40 179.80h3.2v3.2h-3.2zM535.40 172.50h3.2v3.2h-3.2zM542.90 168.15h3.2v3.2h-3.2zM547.90 163.90h3.2v3.2h-3.2zM553.90 162.90h3.2v3.2h-3.2zM559.80 162.90h3.2v3.2h-3.2zM565.60 162.90h3.2v3.2h-3.2zM570.80 161.90h3.2v3.2h-3.2zM576.70 163.90h3.2v3.2h-3.2zM583.40 164.90h3.2v3.2h-3.2zM588.65 164.00h3.2v3.2h-3.2zM593.90 158.90h3.2v3.2h-3.2zM599.65 156.60h3.2v3.2h-3.2zM605.50 156.60h3.2v3.2h-3.2zM611.40 150.10h3.2v3.2h-3.2zM617.40 151.00h3.2v3.2h-3.2zM623.10 150.10h3.2v3.2h-3.2zM628.90 155.30h3.2v3.2h-3.2zM634.20 155.50h3.2v3.2h-3.2zM657.70 257.00h3.2v3.2h-3.2zM663.40 268.00h3.2v3.2h-3.2zM669.10 271.40h3.2v3.2h-3.2zM674.60 272.50h3.2v3.2h-3.2zM682.90 269.10h3.2v3.2h-3.2zM686.00 266.60h3.2v3.2h-3.2zM692.00 266.30h3.2v3.2h-3.2zM698.40 266.80h3.2v3.2h-3.2zM703.60 265.70h3.2v3.2h-3.2zM709.00 266.80h3.2v3.2h-3.2zM715.40 267.20h3.2v3.2h-3.2zM720.80 265.50h3.2v3.2h-3.2zM726.70 266.80h3.2v3.2h-3.2zM732.40 267.10h3.2v3.2h-3.2zM738.20 268.60h3.2v3.2h-3.2zM744.00 268.20h3.2v3.2h-3.2zM749.80 266.20h3.2v3.2h-3.2zM755.70 266.60h3.2v3.2h-3.2zM761.10 267.10h3.2v3.2h-3.2zM766.20 267.90h3.2v3.2h-3.2zM771.90 267.10h3.2v3.2h-3.2zM777.00 266.80h3.2v3.2h-3.2zM783.70 266.80h3.2v3.2h-3.2zM788.40 267.20h3.2v3.2h-3.2z" fill="#ff00ff"/>
<line x1="417.15" y1="94.00" x2="417.15" y2="107.20" stroke="#ff0000" stroke-width="1.6"/>
<line x1="417.15" y1="109.75" x2="417.15" y2="118.00" stroke="#ff8000" stroke-width="1.6"/>
<line x1="417.15" y1="192.00" x2="417.15" y2="200.60" stroke="#ff00ff" stroke-width="1.6"/>
<polygon points="790,274.3 793.3,275.5 793.3,278.2 790,277.3" fill="#ff0000"/>
<polygon points="790,270.8 793.3,271.0 793.3,276.2 790,273.8" fill="#0000ff"/>
<polygon points="790,260.6 793.3,260.3 793.3,264.0 790,263.8" fill="#008000"/>
<polygon points="790,263.9 793.3,263.8 793.3,266.2 790,266.4" fill="#ff8000"/>
<polygon points="790,266.8 793.3,265.2 793.3,271.8 790,270.3" fill="#ff00ff"/>
</g>
<rect x="426.30" y="0.60" width="110.70" height="73.50" fill="#fff" stroke="#8a8a8a" stroke-width="0.90"/>
<path d="M431.80 9.30H440.05M444.35 9.30H452.00" stroke="#000000" stroke-width="1.1" fill="none"/>
<rect x="440.95" y="8.05" width="2.50" height="2.50" fill="#000000"/>
<text x="455.50" y="12.67" font-size="9.35">bonded O-H</text>
<path d="M431.80 20.00H440.05M444.35 20.00H452.00" stroke="#ff0000" stroke-width="1.1" fill="none"/>
<rect x="440.95" y="18.75" width="2.50" height="2.50" fill="#ff0000"/>
<text x="455.50" y="23.37" font-size="9.35">free O-H</text>
<path d="M431.80 31.00H440.05M444.35 31.00H452.00" stroke="#008000" stroke-width="1.1" fill="none"/>
<rect x="440.95" y="29.75" width="2.50" height="2.50" fill="#008000"/>
<text x="455.50" y="34.37" font-size="9.35">CO<tspan font-size="5.8" dy="2.6">2</tspan></text>
<path d="M431.80 44.50H440.05M444.35 44.50H452.00" stroke="#0000ff" stroke-width="1.1" fill="none"/>
<rect x="440.95" y="43.25" width="2.50" height="2.50" fill="#0000ff"/>
<text x="455.50" y="47.87" font-size="9.35">C=O in acetic acid</text>
<path d="M431.80 55.50H440.05M444.35 55.50H452.00" stroke="#ff8000" stroke-width="1.1" fill="none"/>
<rect x="440.95" y="54.25" width="2.50" height="2.50" fill="#ff8000"/>
<text x="455.50" y="58.87" font-size="9.35">C=O in acetate</text>
<path d="M431.80 66.50H440.05M444.35 66.50H452.00" stroke="#ff00ff" stroke-width="1.1" fill="none"/>
<rect x="440.95" y="65.25" width="2.50" height="2.50" fill="#ff00ff"/>
<text x="455.50" y="69.87" font-size="9.35">C-CH</text>
<text x="207.8" y="321.4" text-anchor="middle" font-size="11.4">Temperature (°C)</text>
<text x="605" y="321.3" text-anchor="middle" font-size="11.4">Temperature (°C)</text>
<text x="204.1" y="340" text-anchor="middle" font-size="17.8" style="stroke-width:0.12px">(a)</text>
<text x="605.1" y="340" text-anchor="middle" font-size="17.8" style="stroke-width:0.12px">(b)</text>
<text transform="translate(8.5 138.9) rotate(-90)" text-anchor="middle" font-size="10.65">Absorbance peak height unit</text>
<text transform="translate(405 117.8) rotate(-90)" text-anchor="middle" font-size="10.7">Absorbance peak height unit</text>
</svg>
</body></html>
